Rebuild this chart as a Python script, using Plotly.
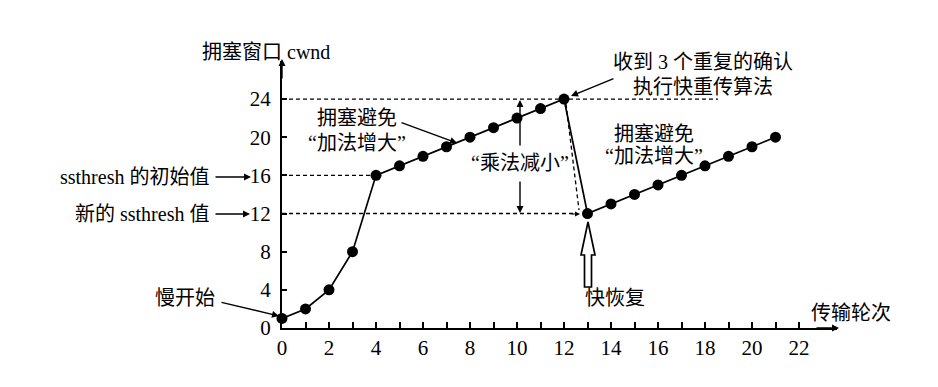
import plotly.graph_objects as go

# ---- data ----
rounds = list(range(0, 22))
cwnd = [1, 2, 4, 8, 16, 17, 18, 19, 20, 21, 22, 23, 24,
        12, 13, 14, 15, 16, 17, 18, 19, 20]
x_tickvals = list(range(0, 23))
x_ticktext = [str(v) if v % 2 == 0 else "" for v in x_tickvals]
y_tickvals = [0, 4, 8, 12, 16, 20, 24]
ssthresh_init = 16
ssthresh_new = 12
peak = 24

# ---- geometry (pixel frame of the plot area, page coordinates) ----
W, H = 938, 387
OFF = 8  # page body margin
L, R, T, B = 282, 837, 61, 328
XPX, YPX = 23.5, 9.54


def X(px):
    return (px - L) / XPX


def Y(py):
    return (B - py) / YPX


def PX(px):
    return (px - L) / (R - L)


def PY(py):
    return (B - py) / (B - T)


SERIF = "Liberation Serif, Noto Sans CJK SC"
FS = 20

fig = go.Figure()
fig.add_trace(go.Scatter(
    x=rounds, y=cwnd, mode="lines+markers",
    line=dict(color="black", width=1.7),
    marker=dict(color="black", size=11),
    cliponaxis=False, showlegend=False, hoverinfo="skip"))

shapes = []
dash = dict(color="black", width=1.3, dash="4px,3px")
shapes.append(dict(type="line", xref="x", yref="y", x0=0, x1=X(718), y0=peak, y1=peak, line=dash))
shapes.append(dict(type="line", xref="x", yref="y", x0=0, x1=4, y0=ssthresh_init, y1=ssthresh_init, line=dash))
shapes.append(dict(type="line", xref="x", yref="y", x0=0, x1=X(576), y0=ssthresh_new, y1=ssthresh_new, line=dash))
shapes.append(dict(type="line", xref="x", yref="y", x0=X(566), y0=Y(104), x1=X(579), y1=Y(210), line=dash))
# hollow arrow (fast recovery)
cx = 588
pts = [(cx - 3.5, 287), (cx - 3.5, 255), (cx - 7, 255), (cx, 222), (cx + 7, 255),
       (cx + 3.5, 255), (cx + 3.5, 287)]
path = "M " + " L ".join(f"{X(a):.4f},{Y(b):.4f}" for a, b in pts) + " Z"
shapes.append(dict(type="path", xref="x", yref="y", path=path,
                   line=dict(color="black", width=1.7), fillcolor="white"))

ann = []


def text(px, py, s, xanchor="center", size=FS):
    ann.append(dict(x=PX(px), y=PY(py), xref="paper", yref="paper", text=s, showarrow=False,
                    xanchor=xanchor, yanchor="middle",
                    font=dict(family=SERIF, size=size, color="black")))


def arrow(tx, ty, hx, hy, head=2, w=1.4, size=1.0):
    ann.append(dict(x=PX(hx), y=PY(hy), ax=tx - hx, ay=ty - hy, xref="paper", yref="paper",
                    axref="pixel", ayref="pixel", text="", showarrow=True,
                    arrowhead=head, arrowsize=size, arrowwidth=w, arrowcolor="black"))


arrow(L, 80, L, T - 2)
arrow(815, B, R + 2, B)

text(266, 52, "拥塞窗口 cwnd")
text(851, 313, "传输轮次")

text(211, 177, "ssthresh 的初始值", xanchor="right")
arrow(214, 177, 251, 177)
text(211, 214, "新的 ssthresh 值", xanchor="right")
arrow(214, 214, 250, 214)
text(217, 298, "慢开始", xanchor="right")
arrow(220, 302, 279, 316)

text(357, 118, "拥塞避免")
text(357, 143, "“加法增大”")
arrow(400, 122, 457, 143)

text(703, 62, "收到 3 个重复的确认")
text(703, 87, "执行快重传算法")
arrow(615, 78, 571, 96)

text(520, 163, "“乘法减小”")
arrow(520, 147, 520, 100)
arrow(520, 180, 520, 213)
arrow(570, 214, 580, 214, w=1.0)

text(654, 134, "拥塞避免")
text(654, 156, "“加法增大”")

text(615, 298, "快恢复")

fig.update_layout(
    width=W, height=H,
    margin=dict(l=L - OFF, r=W - R + OFF, t=T - OFF, b=H - B + OFF, autoexpand=False),
    plot_bgcolor="white", paper_bgcolor="white",
    shapes=shapes, annotations=ann,
    xaxis=dict(range=[0, (R - L) / XPX], showgrid=False, zeroline=False,
               showline=True, linecolor="black", linewidth=2,
               tickvals=x_tickvals, ticktext=x_ticktext,
               ticks="inside", ticklen=6, tickwidth=1.5, tickcolor="black",
               tickfont=dict(family=SERIF, size=21, color="black")),
    yaxis=dict(range=[0, (B - T) / YPX], showgrid=False, zeroline=False,
               showline=True, linecolor="black", linewidth=2,
               tickvals=y_tickvals, ticklabelstandoff=5,
               ticks="inside", ticklen=5, tickwidth=1.5, tickcolor="black",
               tickfont=dict(family=SERIF, size=21, color="black")),
)

fig.write_html("out.html")
